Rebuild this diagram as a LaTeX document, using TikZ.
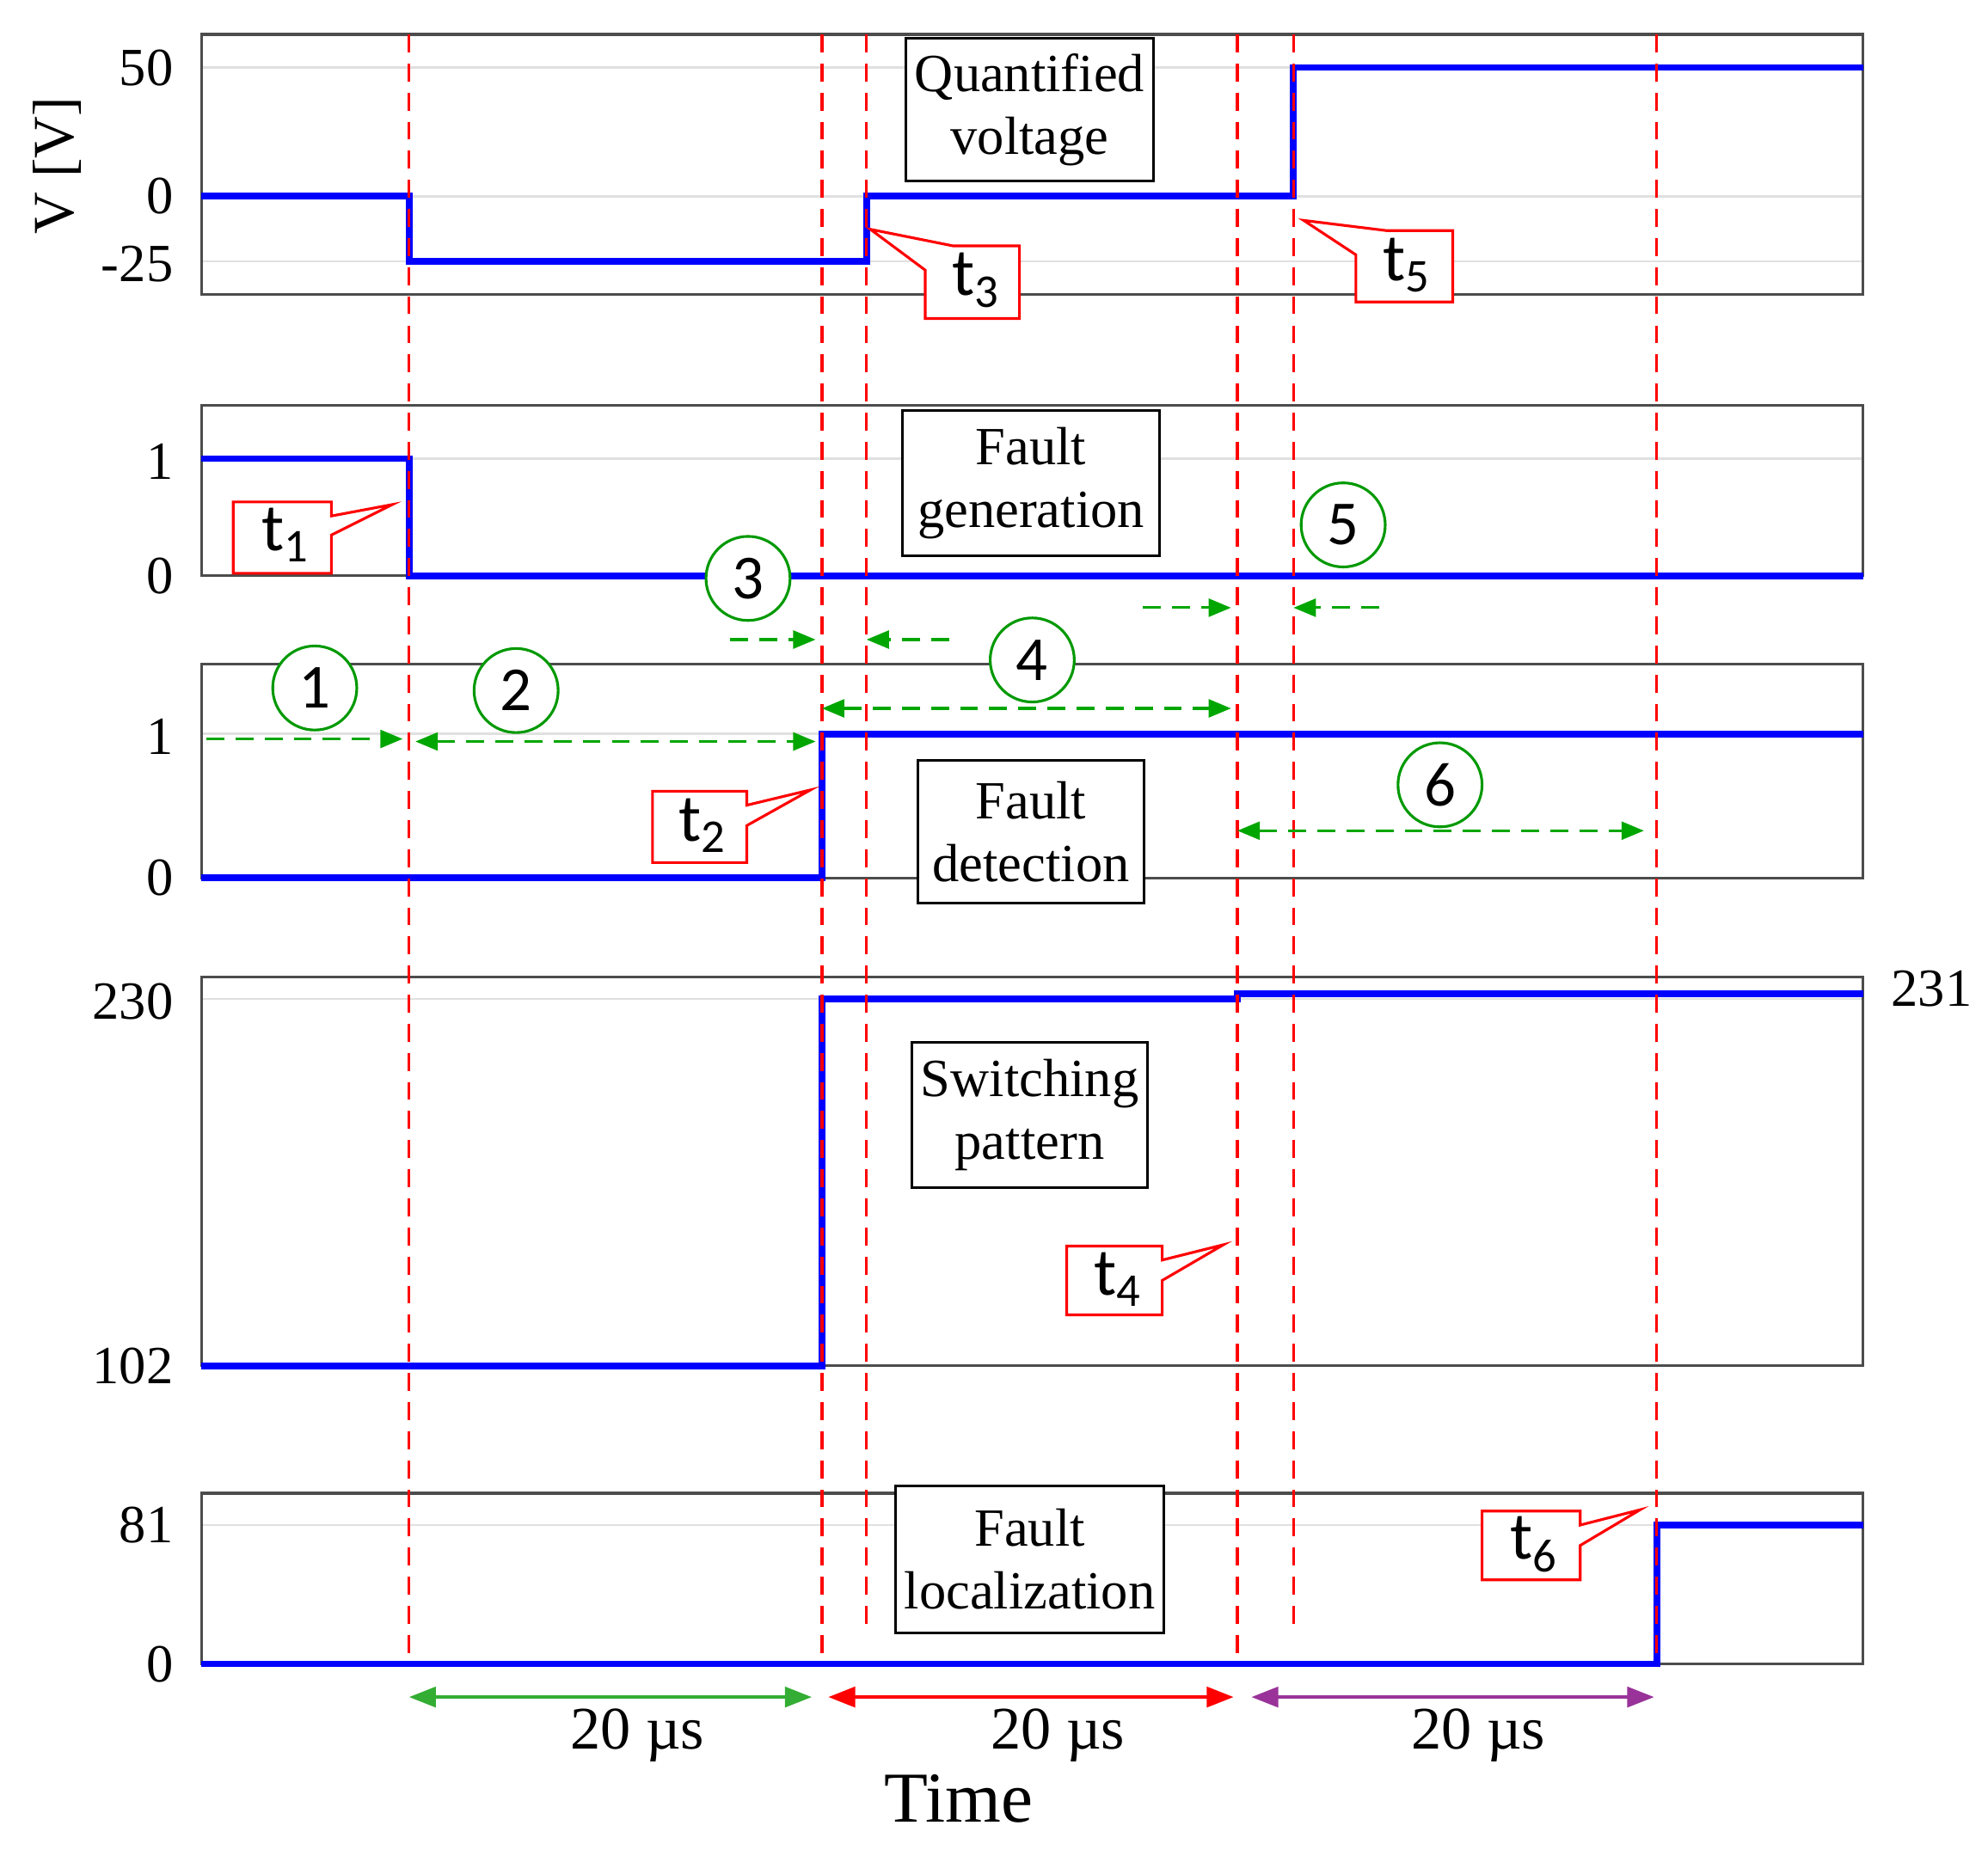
\documentclass[tikz,border=0pt]{standalone}
\usepackage{fontspec}
\setmainfont{Liberation Serif}
\newfontfamily\sansf{Carlito}
\usetikzlibrary{arrows.meta}
\begin{document}
\begin{tikzpicture}[x=0.02cm,y=-0.02cm,
  panel/.style={draw=black!70,line width=1.2pt},
  grid/.style={draw=black!12,line width=1pt},
  sig/.style={draw=blue,line width=3pt},
  vred/.style={draw=red,dashed,line width=1.3pt,dash pattern=on 8pt off 5pt},
  tbox/.style={draw=black,line width=1.2pt,fill=white,align=center,font=\fontsize{24}{28}\selectfont,inner sep=4pt},
  tick/.style={anchor=east,font=\fontsize{24}{28}\selectfont},
  gcirc/.style={draw=green!60!black,circle,line width=1.2pt,fill=white,minimum size=1.32cm,inner sep=0pt,font=\sansf\fontsize{28}{30}\selectfont},
  garr/.style={draw=green!65!black,dashed,line width=1.2pt,dash pattern=on 8pt off 5pt,-{Triangle[length=10pt,width=8pt]}},
  garrb/.style={garr,{Triangle[length=10pt,width=8pt]}-{Triangle[length=10pt,width=8pt]}},
  callout/.style={draw=red,line width=1.2pt,fill=white},
  tlab/.style={font=\sansf\fontsize{30}{32}\selectfont},
  barr/.style={line width=1.5pt,{Triangle[length=12pt,width=9pt]}-{Triangle[length=12pt,width=9pt]}},
  lab/.style={font=\fontsize{27}{30}\selectfont}]
\useasboundingbox (0,0) rectangle (1560,1452);
% grids
\foreach \y in {53,154,205,360,452,576,689,784,1072,1197,1306}{\draw[grid] (158,\y)--(1462,\y);}
% panels
\draw[panel] (158,27) rectangle (1462,231);
\draw[panel] (158,318) rectangle (1462,452);
\draw[panel] (158,521) rectangle (1462,689);
\draw[panel] (158,767) rectangle (1462,1072);
\draw[panel] (158,1172) rectangle (1462,1306);
% ticks
\node[tick] (k1) at (142,53) {50};
\node[tick] (k2) at (142,154) {0};
\node[tick] (k3) at (142,207) {-25};
\node[tick] (k4) at (142,362) {1};
\node[tick] (k5) at (142,452) {0};
\node[tick] (k6) at (142,578) {1};
\node[tick] (k7) at (142,689) {0};
\node[tick] (k8) at (142,786) {230};
\node[tick] (k9) at (142,1072) {102};
\node[tick] (k10) at (142,1197) {81};
\node[tick] (k11) at (142,1306) {0};
\node[anchor=west,font=\fontsize{24}{28}\selectfont] (k12) at (1478,776) {231};
\node[rotate=90,font=\fontsize{26}{28}\selectfont] (yl) at (45,130) {V [V]};
% signals
\draw[sig] (158,154)--(321,154)--(321,205)--(680,205)--(680,154)--(1015,154)--(1015,53)--(1462,53);
\draw[sig] (158,360)--(321,360)--(321,452)--(1462,452);
\draw[sig] (158,689)--(645,689)--(645,576)--(1462,576);
\draw[sig] (158,1072)--(645,1072)--(645,784)--(971,784)--(971,780)--(1462,780);
\draw[sig] (158,1306)--(1300,1306)--(1300,1197)--(1462,1197);
% red dashed lines
\foreach \x in {321,645,971,1300}{\draw[vred] (\x,27)--(\x,1306);}
\foreach \x in {680,1015}{\draw[vred] (\x,27)--(\x,1278);}
% title boxes
\node[tbox,minimum width=3.86cm,minimum height=2.24cm] (b1) at (808,86) {Quantified\\voltage};
\node[tbox,minimum width=4.04cm,minimum height=2.28cm] (b2) at (809,379) {Fault\\generation};
\node[tbox,minimum width=3.56cm,minimum height=2.24cm] (b3) at (809,653) {Fault\\detection};
\node[tbox,minimum width=3.66cm,minimum height=2.28cm] (b4) at (808,875) {Switching\\pattern};
\node[tbox,minimum width=4.22cm,minimum height=2.3cm] (b5) at (808,1224) {Fault\\localization};
% callouts
\draw[callout] (726,212)--(683,180)--(748,193)--(800,193)--(800,250)--(726,250)--cycle;
\node[tlab] (t3) at (766,220) {t\textsubscript{3}};
\draw[callout] (1064,200)--(1023,173)--(1088,181)--(1140,181)--(1140,237)--(1064,237)--cycle;
\node[tlab] (t5) at (1104,208) {t\textsubscript{5}};
\draw[callout] (183,394)--(260,394)--(260,405)--(308,396)--(260,420)--(260,450)--(183,450)--cycle;
\node[tlab] (t1) at (224,420) {t\textsubscript{1}};
\draw[callout] (512,621)--(586,621)--(586,632)--(636,620)--(586,648)--(586,677)--(512,677)--cycle;
\node[tlab] (t2) at (551,648) {t\textsubscript{2}};
\draw[callout] (837,978)--(912,978)--(912,989)--(960,977)--(912,1005)--(912,1032)--(837,1032)--cycle;
\node[tlab] (t4) at (877,1004) {t\textsubscript{4}};
\draw[callout] (1163,1186)--(1240,1186)--(1240,1197)--(1287,1185)--(1240,1213)--(1240,1240)--(1163,1240)--cycle;
\node[tlab] (t6) at (1204,1212) {t\textsubscript{6}};
% green arrows
\coordinate (g1a) at (162,580); \coordinate (g1b) at (316,580);
\draw[garr] (g1a)--(g1b);
\coordinate (g2a) at (326,582); \coordinate (g2b) at (640,582);
\draw[garrb] (g2a)--(g2b);
\coordinate (g3a) at (573,502); \coordinate (g3b) at (640,502);
\draw[garr] (g3a)--(g3b);
\coordinate (g3c) at (745,502); \coordinate (g3d) at (680,502);
\draw[garr] (g3c)--(g3d);
\coordinate (g4a) at (645,556); \coordinate (g4b) at (966,556);
\draw[garrb] (g4a)--(g4b);
\coordinate (g5a) at (897,477); \coordinate (g5b) at (966,477);
\draw[garr] (g5a)--(g5b);
\coordinate (g5c) at (1082,477); \coordinate (g5d) at (1015,477);
\draw[garr] (g5c)--(g5d);
\coordinate (g6a) at (971,652); \coordinate (g6b) at (1290,652);
\draw[garrb] (g6a)--(g6b);
\node[gcirc] (c1) at (247,540) {1};
\node[gcirc] (c2) at (405,542) {2};
\node[gcirc] (c3) at (587,454) {3};
\node[gcirc] (c4) at (810,518) {4};
\node[gcirc] (c5) at (1054,412) {5};
\node[gcirc] (c6) at (1130,616) {6};
% bottom arrows
\coordinate (d1) at (321,1332); \coordinate (d2) at (637,1332);
\coordinate (d3) at (650,1332); \coordinate (d4) at (968,1332);
\coordinate (d5) at (982,1332); \coordinate (d6) at (1298,1332);
\draw[barr,draw=green!60!black!80,fill=green!60!black!80] (d1)--(d2);
\draw[barr,draw=red,fill=red] (d3)--(d4);
\draw[barr,draw=violet!80,fill=violet!80] (d5)--(d6);
\node[lab] (l1) at (500,1362) {20 µs};
\node[lab] (l2) at (830,1362) {20 µs};
\node[lab] (l3) at (1160,1362) {20 µs};
\node[font=\fontsize{32}{34}\selectfont] (tm) at (752,1412) {Time};
\end{tikzpicture}
\end{document}
